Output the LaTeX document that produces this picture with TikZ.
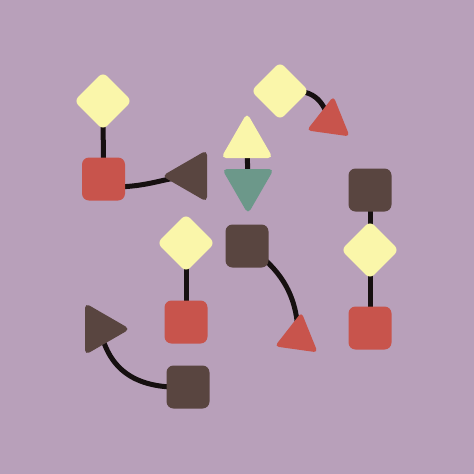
\documentclass[tikz,border=0pt]{standalone}
\usetikzlibrary{shapes.geometric,backgrounds}
\definecolor{bgc}{RGB}{184,160,186}
\definecolor{ylw}{RGB}{250,246,170}
\definecolor{redc}{RGB}{200,84,76}
\definecolor{dark}{RGB}{89,69,64}
\definecolor{teal}{RGB}{108,152,138}
\definecolor{edgec}{RGB}{22,16,16}
\begin{document}
\begin{tikzpicture}[x=1pt,y=-1pt,
  sq/.style={rectangle,minimum size=43pt,inner sep=0pt,rounded corners=7pt},
  dia/.style={rectangle,minimum size=41pt,inner sep=0pt,rounded corners=6pt,rotate=45,fill=ylw},
  tri/.style={regular polygon,regular polygon sides=3,minimum size=60pt,inner sep=0pt,rounded corners=5pt},
  stri/.style={regular polygon,regular polygon sides=3,minimum size=50pt,inner sep=0pt,rounded corners=4pt,fill=redc},
  link/.style={draw=edgec,line width=5pt}]
\useasboundingbox (0,0) rectangle (474,474);
% group 1
\node[dia] (d1) at (103,101) {};
\node[sq,fill=redc] (r1) at (103.5,179) {};
\node[tri,fill=dark,rotate=90] (t1) at (192,176) {};
% group 2
\node[dia] (d2) at (280,91) {};
\node[stri,rotate=-8] (t2) at (330,121) {};
\node[tri,fill=ylw] (y2) at (247,143) {};
\node[tri,fill=teal,rotate=180] (g2) at (248,184) {};
% group 3
\node[dia] (d3) at (186,243) {};
\node[sq,fill=redc] (r3) at (186,322) {};
\node[sq,fill=dark] (q3) at (247,246) {};
\node[stri,rotate=-8] (t3) at (298,337) {};
% group 4
\node[tri,fill=dark,rotate=-90] (t4) at (100,329) {};
\node[sq,fill=dark] (q4) at (188,387) {};
% group 5
\node[sq,fill=dark] (q5) at (370,190) {};
\node[dia] (d5) at (370,250) {};
\node[sq,fill=redc] (r5) at (370,328) {};
\begin{scope}[on background layer]
\fill[bgc] (0,0) rectangle (474,474);
\draw[link] (d1.center) -- (r1.center);
\draw[link] ([yshift=-8pt]r1.center) .. controls (150,188) and (160,178) .. (t1.center);
\draw[link] (d2.center) .. controls (315,88) and (322,100) .. (t2.center);
\draw[link] (y2.center) -- (g2.center);
\draw[link] (d3.center) -- (r3.center);
\draw[link] (q3.center) .. controls (280,268) and (298,295) .. (t3.center);
\draw[link] (q4.center) .. controls (130,390) and (108,365) .. (t4.center);
\draw[link] (q5.center) -- (d5.center);
\draw[link] (d5.center) -- (r5.center);
\end{scope}
\end{tikzpicture}
\end{document}
